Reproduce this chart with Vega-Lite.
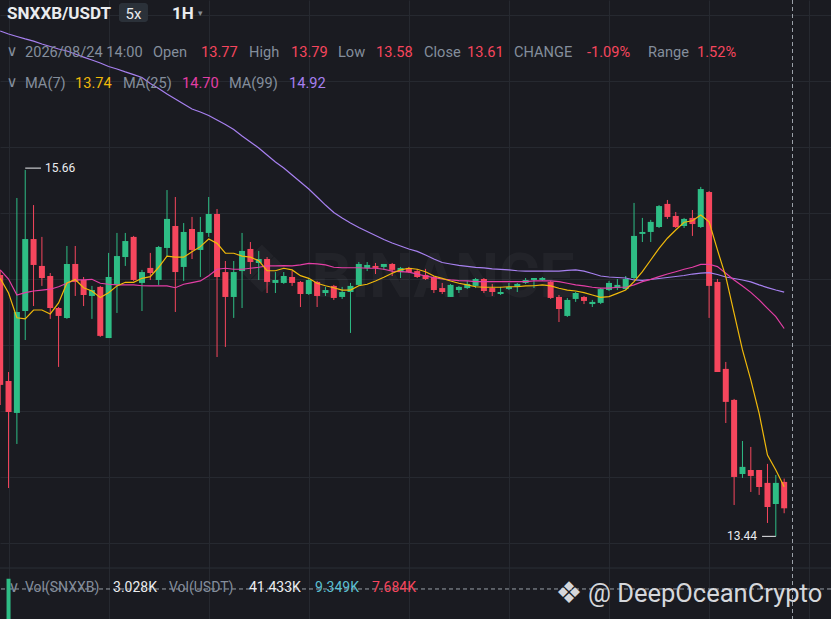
{
  "$schema": "https://vega.github.io/schema/vega-lite/v6.json",
  "description": "SNXXB/USDT 1H candles with MA(7), MA(25), MA(99), dark exchange theme.",
  "width": 831,
  "height": 619,
  "autosize": "none",
  "padding": 0,
  "background": "#1a1b21",
  "datasets": {
    "candles": [
      {"i": 0, "o": 15.024, "h": 15.055, "l": 14.236, "c": 14.358, "ma7": 15.004, "ma25": 15.055, "ma99": 16.503},
      {"i": 1, "o": 14.382, "h": 14.436, "l": 13.733, "c": 14.194, "ma7": 14.915, "ma25": 15.000, "ma99": 16.485},
      {"i": 2, "o": 14.188, "h": 15.491, "l": 14.000, "c": 14.800, "ma7": 14.765, "ma25": 14.903, "ma99": 16.470},
      {"i": 3, "o": 14.806, "h": 15.661, "l": 14.630, "c": 15.242, "ma7": 14.758, "ma25": 14.917, "ma99": 16.455},
      {"i": 4, "o": 15.242, "h": 15.448, "l": 14.836, "c": 15.085, "ma7": 14.812, "ma25": 14.927, "ma99": 16.442},
      {"i": 5, "o": 15.079, "h": 15.255, "l": 14.958, "c": 15.006, "ma7": 14.812, "ma25": 14.933, "ma99": 16.424},
      {"i": 6, "o": 15.018, "h": 15.036, "l": 14.758, "c": 14.824, "ma7": 14.788, "ma25": 14.938, "ma99": 16.409},
      {"i": 7, "o": 14.824, "h": 14.830, "l": 14.467, "c": 14.776, "ma7": 14.855, "ma25": 14.953, "ma99": 16.394},
      {"i": 8, "o": 14.764, "h": 15.200, "l": 14.758, "c": 15.091, "ma7": 14.976, "ma25": 14.974, "ma99": 16.382},
      {"i": 9, "o": 15.091, "h": 15.200, "l": 14.897, "c": 14.982, "ma7": 14.997, "ma25": 14.994, "ma99": 16.364},
      {"i": 10, "o": 14.994, "h": 15.012, "l": 14.836, "c": 14.903, "ma7": 14.947, "ma25": 14.994, "ma99": 16.345},
      {"i": 11, "o": 14.897, "h": 14.958, "l": 14.758, "c": 14.933, "ma7": 14.927, "ma25": 14.998, "ma99": 16.327},
      {"i": 12, "o": 14.952, "h": 14.958, "l": 14.649, "c": 14.655, "ma7": 14.887, "ma25": 14.974, "ma99": 16.309},
      {"i": 13, "o": 14.642, "h": 15.158, "l": 14.642, "c": 15.012, "ma7": 14.917, "ma25": 14.968, "ma99": 16.288},
      {"i": 14, "o": 14.964, "h": 15.279, "l": 14.794, "c": 15.139, "ma7": 14.958, "ma25": 14.964, "ma99": 16.273},
      {"i": 15, "o": 15.133, "h": 15.279, "l": 15.079, "c": 15.230, "ma7": 14.980, "ma25": 14.964, "ma99": 16.255},
      {"i": 16, "o": 15.255, "h": 15.261, "l": 14.988, "c": 14.994, "ma7": 14.980, "ma25": 14.964, "ma99": 16.239},
      {"i": 17, "o": 14.976, "h": 15.055, "l": 14.806, "c": 15.042, "ma7": 15.004, "ma25": 14.959, "ma99": 16.221},
      {"i": 18, "o": 15.067, "h": 15.158, "l": 14.994, "c": 15.036, "ma7": 15.014, "ma25": 14.958, "ma99": 16.185},
      {"i": 19, "o": 14.994, "h": 15.200, "l": 14.964, "c": 15.194, "ma7": 15.071, "ma25": 14.958, "ma99": 16.155},
      {"i": 20, "o": 15.188, "h": 15.539, "l": 15.139, "c": 15.364, "ma7": 15.139, "ma25": 14.958, "ma99": 16.121},
      {"i": 21, "o": 15.321, "h": 15.497, "l": 14.800, "c": 15.042, "ma7": 15.132, "ma25": 14.947, "ma99": 16.091},
      {"i": 22, "o": 15.073, "h": 15.339, "l": 14.988, "c": 15.285, "ma7": 15.132, "ma25": 14.968, "ma99": 16.061},
      {"i": 23, "o": 15.303, "h": 15.376, "l": 15.121, "c": 15.176, "ma7": 15.165, "ma25": 14.978, "ma99": 16.030},
      {"i": 24, "o": 15.176, "h": 15.376, "l": 15.012, "c": 15.285, "ma7": 15.196, "ma25": 14.988, "ma99": 16.012},
      {"i": 25, "o": 15.279, "h": 15.497, "l": 15.255, "c": 15.394, "ma7": 15.242, "ma25": 15.020, "ma99": 15.991},
      {"i": 26, "o": 15.394, "h": 15.424, "l": 14.527, "c": 15.012, "ma7": 15.216, "ma25": 15.059, "ma99": 15.964},
      {"i": 27, "o": 15.042, "h": 15.109, "l": 14.588, "c": 14.891, "ma7": 15.156, "ma25": 15.065, "ma99": 15.936},
      {"i": 28, "o": 14.891, "h": 15.109, "l": 14.764, "c": 15.042, "ma7": 15.156, "ma25": 15.059, "ma99": 15.906},
      {"i": 29, "o": 15.048, "h": 15.279, "l": 14.824, "c": 15.170, "ma7": 15.139, "ma25": 15.059, "ma99": 15.867},
      {"i": 30, "o": 15.182, "h": 15.224, "l": 15.030, "c": 15.103, "ma7": 15.132, "ma25": 15.065, "ma99": 15.830},
      {"i": 31, "o": 15.097, "h": 15.170, "l": 14.994, "c": 15.121, "ma7": 15.111, "ma25": 15.071, "ma99": 15.794},
      {"i": 32, "o": 15.121, "h": 15.133, "l": 14.915, "c": 14.982, "ma7": 15.050, "ma25": 15.079, "ma99": 15.752},
      {"i": 33, "o": 14.976, "h": 15.042, "l": 14.915, "c": 14.994, "ma7": 15.050, "ma25": 15.079, "ma99": 15.709},
      {"i": 34, "o": 14.976, "h": 15.042, "l": 14.970, "c": 15.018, "ma7": 15.065, "ma25": 15.081, "ma99": 15.673},
      {"i": 35, "o": 15.012, "h": 15.048, "l": 14.958, "c": 14.976, "ma7": 15.055, "ma25": 15.079, "ma99": 15.630},
      {"i": 36, "o": 14.982, "h": 14.988, "l": 14.830, "c": 14.909, "ma7": 15.020, "ma25": 15.085, "ma99": 15.588},
      {"i": 37, "o": 14.909, "h": 15.006, "l": 14.903, "c": 14.994, "ma7": 15.004, "ma25": 15.095, "ma99": 15.545},
      {"i": 38, "o": 14.982, "h": 14.988, "l": 14.830, "c": 14.897, "ma7": 14.974, "ma25": 15.091, "ma99": 15.497},
      {"i": 39, "o": 14.915, "h": 14.952, "l": 14.897, "c": 14.933, "ma7": 14.959, "ma25": 15.085, "ma99": 15.448},
      {"i": 40, "o": 14.958, "h": 14.964, "l": 14.873, "c": 14.885, "ma7": 14.947, "ma25": 15.071, "ma99": 15.403},
      {"i": 41, "o": 14.891, "h": 14.952, "l": 14.879, "c": 14.921, "ma7": 14.933, "ma25": 15.068, "ma99": 15.370},
      {"i": 42, "o": 14.921, "h": 14.976, "l": 14.673, "c": 14.958, "ma7": 14.933, "ma25": 15.068, "ma99": 15.339},
      {"i": 43, "o": 14.964, "h": 15.103, "l": 14.958, "c": 15.091, "ma7": 14.959, "ma25": 15.068, "ma99": 15.312},
      {"i": 44, "o": 15.067, "h": 15.103, "l": 15.048, "c": 15.085, "ma7": 14.968, "ma25": 15.065, "ma99": 15.288},
      {"i": 45, "o": 15.079, "h": 15.097, "l": 15.030, "c": 15.067, "ma7": 14.988, "ma25": 15.065, "ma99": 15.264},
      {"i": 46, "o": 15.073, "h": 15.091, "l": 15.055, "c": 15.091, "ma7": 15.010, "ma25": 15.059, "ma99": 15.239},
      {"i": 47, "o": 15.091, "h": 15.097, "l": 15.018, "c": 15.055, "ma7": 15.035, "ma25": 15.048, "ma99": 15.218},
      {"i": 48, "o": 15.042, "h": 15.073, "l": 15.006, "c": 15.067, "ma7": 15.055, "ma25": 15.044, "ma99": 15.200},
      {"i": 49, "o": 15.067, "h": 15.073, "l": 15.036, "c": 15.042, "ma7": 15.065, "ma25": 15.041, "ma99": 15.182},
      {"i": 50, "o": 15.048, "h": 15.061, "l": 15.006, "c": 15.012, "ma7": 15.059, "ma25": 15.029, "ma99": 15.167},
      {"i": 51, "o": 15.024, "h": 15.061, "l": 14.994, "c": 15.000, "ma7": 15.044, "ma25": 15.018, "ma99": 15.145},
      {"i": 52, "o": 15.012, "h": 15.018, "l": 14.915, "c": 14.933, "ma7": 15.018, "ma25": 15.008, "ma99": 15.121},
      {"i": 53, "o": 14.945, "h": 14.976, "l": 14.909, "c": 14.921, "ma7": 15.004, "ma25": 15.000, "ma99": 15.100},
      {"i": 54, "o": 14.891, "h": 14.970, "l": 14.891, "c": 14.964, "ma7": 14.988, "ma25": 14.994, "ma99": 15.091},
      {"i": 55, "o": 14.933, "h": 14.958, "l": 14.915, "c": 14.952, "ma7": 14.974, "ma25": 14.990, "ma99": 15.082},
      {"i": 56, "o": 14.945, "h": 14.988, "l": 14.939, "c": 14.970, "ma7": 14.964, "ma25": 14.988, "ma99": 15.076},
      {"i": 57, "o": 14.958, "h": 15.006, "l": 14.945, "c": 15.000, "ma7": 14.953, "ma25": 14.984, "ma99": 15.070},
      {"i": 58, "o": 15.000, "h": 15.006, "l": 14.915, "c": 14.927, "ma7": 14.950, "ma25": 14.984, "ma99": 15.067},
      {"i": 59, "o": 14.945, "h": 14.970, "l": 14.897, "c": 14.921, "ma7": 14.950, "ma25": 14.984, "ma99": 15.061},
      {"i": 60, "o": 14.909, "h": 14.952, "l": 14.903, "c": 14.921, "ma7": 14.950, "ma25": 14.984, "ma99": 15.058},
      {"i": 61, "o": 14.939, "h": 14.976, "l": 14.933, "c": 14.952, "ma7": 14.953, "ma25": 14.984, "ma99": 15.055},
      {"i": 62, "o": 14.952, "h": 14.976, "l": 14.921, "c": 14.970, "ma7": 14.953, "ma25": 14.984, "ma99": 15.050},
      {"i": 63, "o": 14.976, "h": 15.006, "l": 14.970, "c": 14.994, "ma7": 14.958, "ma25": 14.984, "ma99": 15.048},
      {"i": 64, "o": 14.994, "h": 15.006, "l": 14.945, "c": 15.006, "ma7": 14.959, "ma25": 14.988, "ma99": 15.048},
      {"i": 65, "o": 14.994, "h": 15.012, "l": 14.988, "c": 15.006, "ma7": 14.964, "ma25": 14.988, "ma99": 15.048},
      {"i": 66, "o": 14.982, "h": 14.988, "l": 14.879, "c": 14.885, "ma7": 14.958, "ma25": 14.988, "ma99": 15.048},
      {"i": 67, "o": 14.891, "h": 14.903, "l": 14.739, "c": 14.818, "ma7": 14.944, "ma25": 14.984, "ma99": 15.048},
      {"i": 68, "o": 14.776, "h": 14.885, "l": 14.770, "c": 14.873, "ma7": 14.933, "ma25": 14.974, "ma99": 15.052},
      {"i": 69, "o": 14.879, "h": 14.921, "l": 14.861, "c": 14.915, "ma7": 14.927, "ma25": 14.964, "ma99": 15.055},
      {"i": 70, "o": 14.891, "h": 14.897, "l": 14.848, "c": 14.867, "ma7": 14.917, "ma25": 14.958, "ma99": 15.048},
      {"i": 71, "o": 14.848, "h": 14.873, "l": 14.830, "c": 14.861, "ma7": 14.903, "ma25": 14.950, "ma99": 15.033},
      {"i": 72, "o": 14.855, "h": 14.945, "l": 14.848, "c": 14.939, "ma7": 14.889, "ma25": 14.944, "ma99": 15.018},
      {"i": 73, "o": 14.933, "h": 14.988, "l": 14.927, "c": 14.976, "ma7": 14.893, "ma25": 14.944, "ma99": 15.012},
      {"i": 74, "o": 14.945, "h": 15.000, "l": 14.933, "c": 14.964, "ma7": 14.913, "ma25": 14.950, "ma99": 15.009},
      {"i": 75, "o": 14.939, "h": 15.018, "l": 14.933, "c": 15.000, "ma7": 14.933, "ma25": 14.950, "ma99": 15.006},
      {"i": 76, "o": 15.006, "h": 15.461, "l": 15.000, "c": 15.261, "ma7": 14.984, "ma25": 14.964, "ma99": 14.994},
      {"i": 77, "o": 15.273, "h": 15.370, "l": 15.224, "c": 15.285, "ma7": 15.044, "ma25": 14.984, "ma99": 14.991},
      {"i": 78, "o": 15.285, "h": 15.358, "l": 15.224, "c": 15.346, "ma7": 15.115, "ma25": 14.998, "ma99": 14.997},
      {"i": 79, "o": 15.315, "h": 15.448, "l": 15.309, "c": 15.442, "ma7": 15.186, "ma25": 15.014, "ma99": 15.003},
      {"i": 80, "o": 15.455, "h": 15.479, "l": 15.364, "c": 15.376, "ma7": 15.247, "ma25": 15.030, "ma99": 15.009},
      {"i": 81, "o": 15.382, "h": 15.406, "l": 15.309, "c": 15.315, "ma7": 15.297, "ma25": 15.044, "ma99": 15.015},
      {"i": 82, "o": 15.321, "h": 15.370, "l": 15.309, "c": 15.364, "ma7": 15.344, "ma25": 15.059, "ma99": 15.021},
      {"i": 83, "o": 15.370, "h": 15.418, "l": 15.261, "c": 15.333, "ma7": 15.353, "ma25": 15.071, "ma99": 15.030},
      {"i": 84, "o": 15.315, "h": 15.558, "l": 15.309, "c": 15.545, "ma7": 15.388, "ma25": 15.088, "ma99": 15.036},
      {"i": 85, "o": 15.527, "h": 15.533, "l": 14.764, "c": 14.958, "ma7": 15.347, "ma25": 15.089, "ma99": 15.038},
      {"i": 86, "o": 14.982, "h": 15.000, "l": 14.436, "c": 14.436, "ma7": 15.176, "ma25": 15.075, "ma99": 15.027},
      {"i": 87, "o": 14.455, "h": 14.497, "l": 14.127, "c": 14.255, "ma7": 15.014, "ma25": 15.035, "ma99": 15.012},
      {"i": 88, "o": 14.267, "h": 14.273, "l": 13.630, "c": 13.800, "ma7": 14.792, "ma25": 14.994, "ma99": 15.003},
      {"i": 89, "o": 13.818, "h": 14.018, "l": 13.794, "c": 13.861, "ma7": 14.570, "ma25": 14.958, "ma99": 14.994},
      {"i": 90, "o": 13.842, "h": 13.982, "l": 13.709, "c": 13.806, "ma7": 14.388, "ma25": 14.919, "ma99": 14.982},
      {"i": 91, "o": 13.842, "h": 13.842, "l": 13.691, "c": 13.739, "ma7": 14.186, "ma25": 14.873, "ma99": 14.964},
      {"i": 92, "o": 13.764, "h": 13.879, "l": 13.521, "c": 13.618, "ma7": 13.933, "ma25": 14.822, "ma99": 14.948},
      {"i": 93, "o": 13.636, "h": 13.812, "l": 13.440, "c": 13.764, "ma7": 13.842, "ma25": 14.772, "ma99": 14.933},
      {"i": 94, "o": 13.770, "h": 13.790, "l": 13.580, "c": 13.610, "ma7": 13.740, "ma25": 14.700, "ma99": 14.920}
    ],
    "volume": [
      {"i": 1, "vol": 1.3}
    ],
    "notes": [
      {"text": "BINANCE", "i": 53.1, "p": 15.006, "role": "wm", "tone": "white"},
      {"text": "❖", "i": 31.4, "p": 15.043, "role": "wm", "tone": "white"},
      {"text": "SNXXB/USDT", "i": 0.815, "p": 16.606, "role": "pair", "tone": "white"},
      {"text": "1H", "i": 20.6, "p": 16.606, "role": "pair", "tone": "white"},
      {"text": "5x", "i": 15.98, "p": 16.606, "role": "lev", "tone": "white"},
      {"text": "▾", "i": 23.72, "p": 16.61, "role": "caret", "tone": "muted"},
      {"text": "∨", "i": 1.41, "p": 16.382, "role": "chev", "tone": "muted"},
      {"text": "∨", "i": 1.41, "p": 16.194, "role": "chev", "tone": "muted"},
      {"text": "∨", "i": 1.65, "p": 13.133, "role": "chev", "tone": "muted"},
      {"text": "2026/08/24 14:00", "i": 2.974, "p": 16.372, "role": "head", "tone": "muted"},
      {"text": "Open", "i": 18.32, "p": 16.372, "role": "head", "tone": "muted"},
      {"text": "13.77", "i": 24.08, "p": 16.372, "role": "head", "tone": "down"},
      {"text": "High", "i": 29.83, "p": 16.372, "role": "head", "tone": "muted"},
      {"text": "13.79", "i": 34.87, "p": 16.372, "role": "head", "tone": "down"},
      {"text": "Low", "i": 40.5, "p": 16.372, "role": "head", "tone": "muted"},
      {"text": "13.58", "i": 45.06, "p": 16.372, "role": "head", "tone": "down"},
      {"text": "Close", "i": 50.82, "p": 16.372, "role": "head", "tone": "muted"},
      {"text": "13.61", "i": 55.97, "p": 16.372, "role": "head", "tone": "down"},
      {"text": "CHANGE", "i": 61.61, "p": 16.372, "role": "head", "tone": "muted"},
      {"text": "-1.09%", "i": 70.36, "p": 16.372, "role": "head", "tone": "down"},
      {"text": "Range", "i": 77.67, "p": 16.372, "role": "head", "tone": "muted"},
      {"text": "1.52%", "i": 83.55, "p": 16.372, "role": "head", "tone": "down"},
      {"text": "MA(7)", "i": 2.974, "p": 16.184, "role": "head", "tone": "muted"},
      {"text": "13.74", "i": 8.97, "p": 16.184, "role": "head", "tone": "ma7"},
      {"text": "MA(25)", "i": 14.72, "p": 16.184, "role": "head", "tone": "muted"},
      {"text": "14.70", "i": 21.8, "p": 16.184, "role": "head", "tone": "ma25"},
      {"text": "MA(99)", "i": 27.43, "p": 16.184, "role": "head", "tone": "muted"},
      {"text": "14.92", "i": 34.63, "p": 16.184, "role": "head", "tone": "ma99"},
      {"text": "Vol(SNXXB)", "i": 2.97, "p": 13.127, "role": "vol", "tone": "muted"},
      {"text": "3.028K", "i": 13.53, "p": 13.127, "role": "vol", "tone": "white"},
      {"text": "Vol(USDT)", "i": 20.24, "p": 13.127, "role": "vol", "tone": "muted"},
      {"text": "41.433K", "i": 29.83, "p": 13.127, "role": "vol", "tone": "white"},
      {"text": "9.349K", "i": 37.75, "p": 13.127, "role": "vol", "tone": "buy"},
      {"text": "7.684K", "i": 44.58, "p": 13.127, "role": "vol", "tone": "down"},
      {"text": "15.66", "i": 5.37, "p": 15.672, "role": "hi", "tone": "white"},
      {"text": "13.44", "i": 90.75, "p": 13.44, "role": "lo", "tone": "white"},
      {"text": "❖", "i": 68.2, "p": 13.091, "role": "logo", "tone": "brand"},
      {"text": "@ DeepOceanCrypto", "i": 70.48, "p": 13.091, "role": "brand", "tone": "brand"}
    ],
    "extremes": [
      {"i": 3, "i2": 4.89, "p": 15.672},
      {"i": 91.35, "i2": 93, "p": 13.44}
    ],
    "badge": [
      {"i": 14.24, "i2": 17.72, "p": 16.673, "p2": 16.558}
    ]
  },
  "layer": [
    {
      "layer": [
        {
          "data": {"name": "notes"},
          "transform": [{"filter": "datum.role == 'wm'"}],
          "mark": {"type": "text", "font": "Roboto", "fontWeight": "bold", "fontSize": 62, "color": "#ffffff", "opacity": 0.035, "align": "center", "baseline": "middle"},
          "encoding": {
            "x": {
              "field": "i",
              "type": "quantitative",
              "scale": {"domain": [-0.024, 99.616], "nice": false, "zero": false, "padding": 0},
              "axis": {"values": [1, 13, 25, 37, 49, 61, 73, 85, 97], "grid": true, "gridColor": "#262930", "labels": false, "ticks": false, "domain": false, "title": null}
            },
            "y": {
              "field": "p",
              "type": "quantitative",
              "scale": {"domain": [12.939, 16.691], "nice": false, "zero": false, "padding": 0},
              "axis": {"values": [13.4, 13.6, 13.8, 14.0, 14.2, 14.4, 14.6, 14.8, 15.0, 15.2, 15.4, 15.6, 15.8, 16.0, 16.2, 16.4, 16.6], "grid": true, "gridColor": "#262930", "labels": false, "ticks": false, "domain": false, "title": null}
            },
            "text": {"field": "text"}
          }
        },
        {
          "data": {"values": [{}]},
          "mark": {"type": "rule", "color": "#2b2f36", "strokeWidth": 1},
          "encoding": {"y": {"datum": 13.248}}
        },
        {
          "data": {"name": "candles"},
          "mark": {"type": "rule", "strokeWidth": 1},
          "encoding": {
            "x": {"field": "i", "type": "quantitative"},
            "y": {"field": "l", "type": "quantitative"},
            "y2": {"field": "h"},
            "color": {"condition": {"test": "datum.c >= datum.o", "value": "#2ebd85"}, "value": "#f6465d"}
          }
        },
        {
          "data": {"name": "candles"},
          "mark": {"type": "bar", "width": 6, "clip": true},
          "encoding": {
            "x": {"field": "i", "type": "quantitative"},
            "y": {"field": "o", "type": "quantitative"},
            "y2": {"field": "c"},
            "color": {"condition": {"test": "datum.c >= datum.o", "value": "#2ebd85"}, "value": "#f6465d"}
          }
        },
        {
          "data": {"name": "candles"},
          "mark": {"type": "line", "color": "#a780f0", "strokeWidth": 1.2},
          "encoding": {
            "x": {"field": "i", "type": "quantitative"},
            "y": {"field": "ma99", "type": "quantitative"}
          }
        },
        {
          "data": {"name": "candles"},
          "mark": {"type": "line", "color": "#e33ea5", "strokeWidth": 1.2},
          "encoding": {
            "x": {"field": "i", "type": "quantitative"},
            "y": {"field": "ma25", "type": "quantitative"}
          }
        },
        {
          "data": {"name": "candles"},
          "mark": {"type": "line", "color": "#f0b90b", "strokeWidth": 1.2},
          "encoding": {
            "x": {"field": "i", "type": "quantitative"},
            "y": {"field": "ma7", "type": "quantitative"}
          }
        },
        {
          "data": {"values": [{}]},
          "mark": {"type": "rule", "color": "#9aa0a8", "strokeWidth": 1, "strokeDash": [4, 3]},
          "encoding": {"x": {"datum": 95}}
        },
        {
          "data": {"values": [{}]},
          "mark": {"type": "rule", "color": "#9aa0a8", "strokeWidth": 1, "strokeDash": [4, 3]},
          "encoding": {"y": {"datum": 13.121}}
        },
        {
          "data": {"name": "badge"},
          "mark": {"type": "rect", "color": "#2b3139", "cornerRadius": 3},
          "encoding": {
            "x": {"field": "i", "type": "quantitative"},
            "x2": {"field": "i2"},
            "y": {"field": "p", "type": "quantitative"},
            "y2": {"field": "p2"}
          }
        },
        {
          "data": {"name": "extremes"},
          "mark": {"type": "rule", "color": "#eaecef", "strokeWidth": 1},
          "encoding": {
            "x": {"field": "i", "type": "quantitative"},
            "x2": {"field": "i2"},
            "y": {"field": "p", "type": "quantitative"}
          }
        },
        {
          "data": {"name": "notes"},
          "encoding": {
            "x": {"field": "i", "type": "quantitative"},
            "y": {"field": "p", "type": "quantitative"},
            "text": {"field": "text"},
            "color": {
              "field": "tone",
              "type": "nominal",
              "scale": {
                "domain": ["white", "muted", "down", "ma7", "ma25", "ma99", "buy", "brand"],
                "range": ["#eaecef", "#848e9c", "#f6465d", "#f0b90b", "#e33ea5", "#a780f0", "#5cc0d2", "#d5d7db"]
              },
              "legend": null
            }
          },
          "layer": [
            {
              "transform": [{"filter": "datum.role == 'pair'"}],
              "mark": {"type": "text", "font": "Roboto", "fontWeight": "bold", "fontSize": 17, "align": "left", "baseline": "middle"}
            },
            {
              "transform": [{"filter": "datum.role == 'lev'"}],
              "mark": {"type": "text", "font": "Roboto", "fontSize": 15, "align": "center", "baseline": "middle"}
            },
            {
              "transform": [{"filter": "datum.role == 'caret'"}],
              "mark": {"type": "text", "font": "DejaVu Sans", "fontSize": 9, "align": "left", "baseline": "middle"}
            },
            {
              "transform": [{"filter": "datum.role == 'chev'"}],
              "mark": {"type": "text", "font": "DejaVu Sans", "fontSize": 15, "align": "center", "baseline": "middle"}
            },
            {
              "transform": [{"filter": "datum.role == 'head'"}],
              "mark": {"type": "text", "font": "Roboto", "fontSize": 14.6, "align": "left", "baseline": "middle"}
            },
            {
              "transform": [{"filter": "datum.role == 'vol'"}],
              "mark": {"type": "text", "font": "Roboto", "fontSize": 14, "align": "left", "baseline": "middle"}
            },
            {
              "transform": [{"filter": "datum.role == 'hi'"}],
              "mark": {"type": "text", "font": "Roboto", "fontSize": 12, "align": "left", "baseline": "middle"}
            },
            {
              "transform": [{"filter": "datum.role == 'lo'"}],
              "mark": {"type": "text", "font": "Roboto", "fontSize": 12, "align": "right", "baseline": "middle"}
            },
            {
              "transform": [{"filter": "datum.role == 'logo'"}],
              "mark": {"type": "text", "font": "DejaVu Sans", "fontSize": 30, "align": "center", "baseline": "middle"}
            },
            {
              "transform": [{"filter": "datum.role == 'brand'"}],
              "mark": {"type": "text", "font": "Roboto", "fontSize": 25.5, "align": "left", "baseline": "middle"}
            }
          ]
        }
      ]
    },
    {
      "data": {"name": "volume"},
      "mark": {"type": "bar", "width": 4, "color": "#2ebd85"},
      "encoding": {
        "x": {"field": "i", "type": "quantitative"},
        "y": {"field": "vol", "type": "quantitative", "scale": {"domain": [0, 20], "nice": false, "padding": 0}, "axis": null}
      }
    }
  ],
  "resolve": {"scale": {"y": "independent"}},
  "config": {
    "view": {"stroke": null}
  }
}
